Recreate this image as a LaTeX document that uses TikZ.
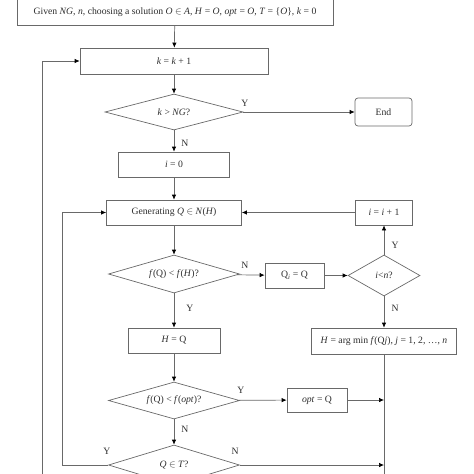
\documentclass[tikz,border=0pt]{standalone}
\usepackage{fontspec}
\setmainfont{Liberation Serif}
\usetikzlibrary{shapes.geometric,arrows.meta}
\definecolor{linegray}{RGB}{105,105,105}
\definecolor{textgray}{RGB}{45,45,45}
\tikzset{
  box/.style={draw=linegray, line width=0.7pt, inner sep=1pt, text=textgray,
    font=\fontsize{9.7}{11}\selectfont},
  decision/.style={box, diamond, aspect=#1},
  decision/.default=3.4,
  arr/.style={draw=linegray, line width=0.7pt, -{Latex[length=5pt,width=4.5pt,color=black]}},
  ln/.style={draw=linegray, line width=0.7pt},
  lbl/.style={text=textgray, inner sep=0pt, font=\fontsize{9.7}{11}\selectfont}
}
\begin{document}
\begin{tikzpicture}[x=1pt,y=-1pt]
            \useasboundingbox (0,0) rectangle (474,474);
            \clip (0,0) rectangle (474,474);
            % main column
            \node[box, minimum width=316pt, minimum height=26pt] (init) at (175,12)
              {Given \textit{NG}, \textit{n}, choosing a solution \textit{O} $\in$ \textit{A}, \textit{H} = \textit{O}, \textit{opt} = \textit{O}, \textit{T} = \{\textit{O}\}, \textit{k} = 0};
            \node[box, minimum width=188pt, minimum height=26pt] (inc) at (174,61) {\textit{k} = \textit{k} + 1};
            \node[decision=3.8, minimum width=138pt, minimum height=36pt] (stop) at (174,112) {\textit{k} > \textit{NG}?};
            \node[box, rounded corners=3pt, minimum width=57pt, minimum height=28pt] (end) at (383.5,112) {End};
            \node[box, minimum width=111pt, minimum height=25pt] (izero) at (174,164.5) {\textit{i} = 0};
            \node[box, minimum width=135pt, minimum height=25pt] (gen) at (174,212.5) {Generating \textit{Q} $\in$ \textit{N}(\textit{H})};
            \node[box, minimum width=57pt, minimum height=25pt] (iinc) at (384,212.5) {\textit{i} = \textit{i} + 1};
            \node[decision, minimum width=131pt, minimum height=38pt] (better) at (174,274) {\textit{f}(Q) < \textit{f}(\textit{H})?};
            \node[box, minimum width=59pt, minimum height=25pt] (qi) at (294.5,275.5) {Q\textsubscript{\textit{i}} = Q};
            \node[decision=1.75, minimum width=72pt, minimum height=41pt] (more) at (384,275.5) {\textit{i}<\textit{n}?};
            \node[box, minimum width=145pt, minimum height=26pt] (argmin) at (384,341)
              {\textit{H} = arg min \textit{f}(Q\textit{j}), \textit{j} = 1, 2, \dots, \textit{n}};
            \node[box, minimum width=92pt, minimum height=25pt] (hq) at (174,340.5) {\textit{H} = Q};
            \node[decision, minimum width=131pt, minimum height=37pt] (best) at (174,400.5) {\textit{f}(Q) < \textit{f}(\textit{opt})?};
            \node[box, minimum width=60pt, minimum height=24pt] (opt) at (317,400) {\textit{opt} = Q};
            \node[decision=3.3, minimum width=131pt, minimum height=40pt] (tabu) at (174,465) {\textit{Q} $\in$ \textit{T}?};
            % free ends
            \coordinate (loop) at (62,465);
            \coordinate (outer) at (42,490);
            \coordinate (right) at (384,490);

            % connectors
            \draw[arr] (init) -- (inc);
            \draw[arr] (inc) -- (stop);
            \draw[arr] (stop) -- (end);
            \draw[arr] (stop) -- (izero);
            \draw[arr] (izero) -- (gen);
            \draw[arr] (gen) -- (better);
            \draw[arr] (better) -- (qi);
            \draw[arr] (qi) -- (more);
            \draw[arr] (more) -- (iinc);
            \draw[arr] (iinc) -- (gen);
            \draw[arr] (more) -- (argmin);
            \draw[arr] (better) -- (hq);
            \draw[arr] (hq) -- (best);
            \draw[arr] (best) -- (opt);
            \draw[arr] (best) -- (tabu);
            \draw[ln] (argmin) -- (right);
            \draw[arr] (opt) -- (opt -| right);
            \draw[arr] (tabu) -- (tabu -| right);
            \draw[arr] (tabu.west) -- (loop) |- (gen.west);
            \draw[arr] (outer) |- (inc.west);

            % Y/N labels
            \node[lbl] (y1) at (245,103) {Y};
            \node[lbl] (n1) at (185,143) {N};
            \node[lbl] (n2) at (245,265) {N};
            \node[lbl] (y2) at (395,245) {Y};
            \node[lbl] (n3) at (395,308) {N};
            \node[lbl] (y3) at (190,308) {Y};
            \node[lbl] (y4) at (241,390) {Y};
            \node[lbl] (n4) at (185,429) {N};
            \node[lbl] (y5) at (107,451) {Y};
            \node[lbl] (n5) at (235,451) {N};
        \end{tikzpicture}
\end{document}
